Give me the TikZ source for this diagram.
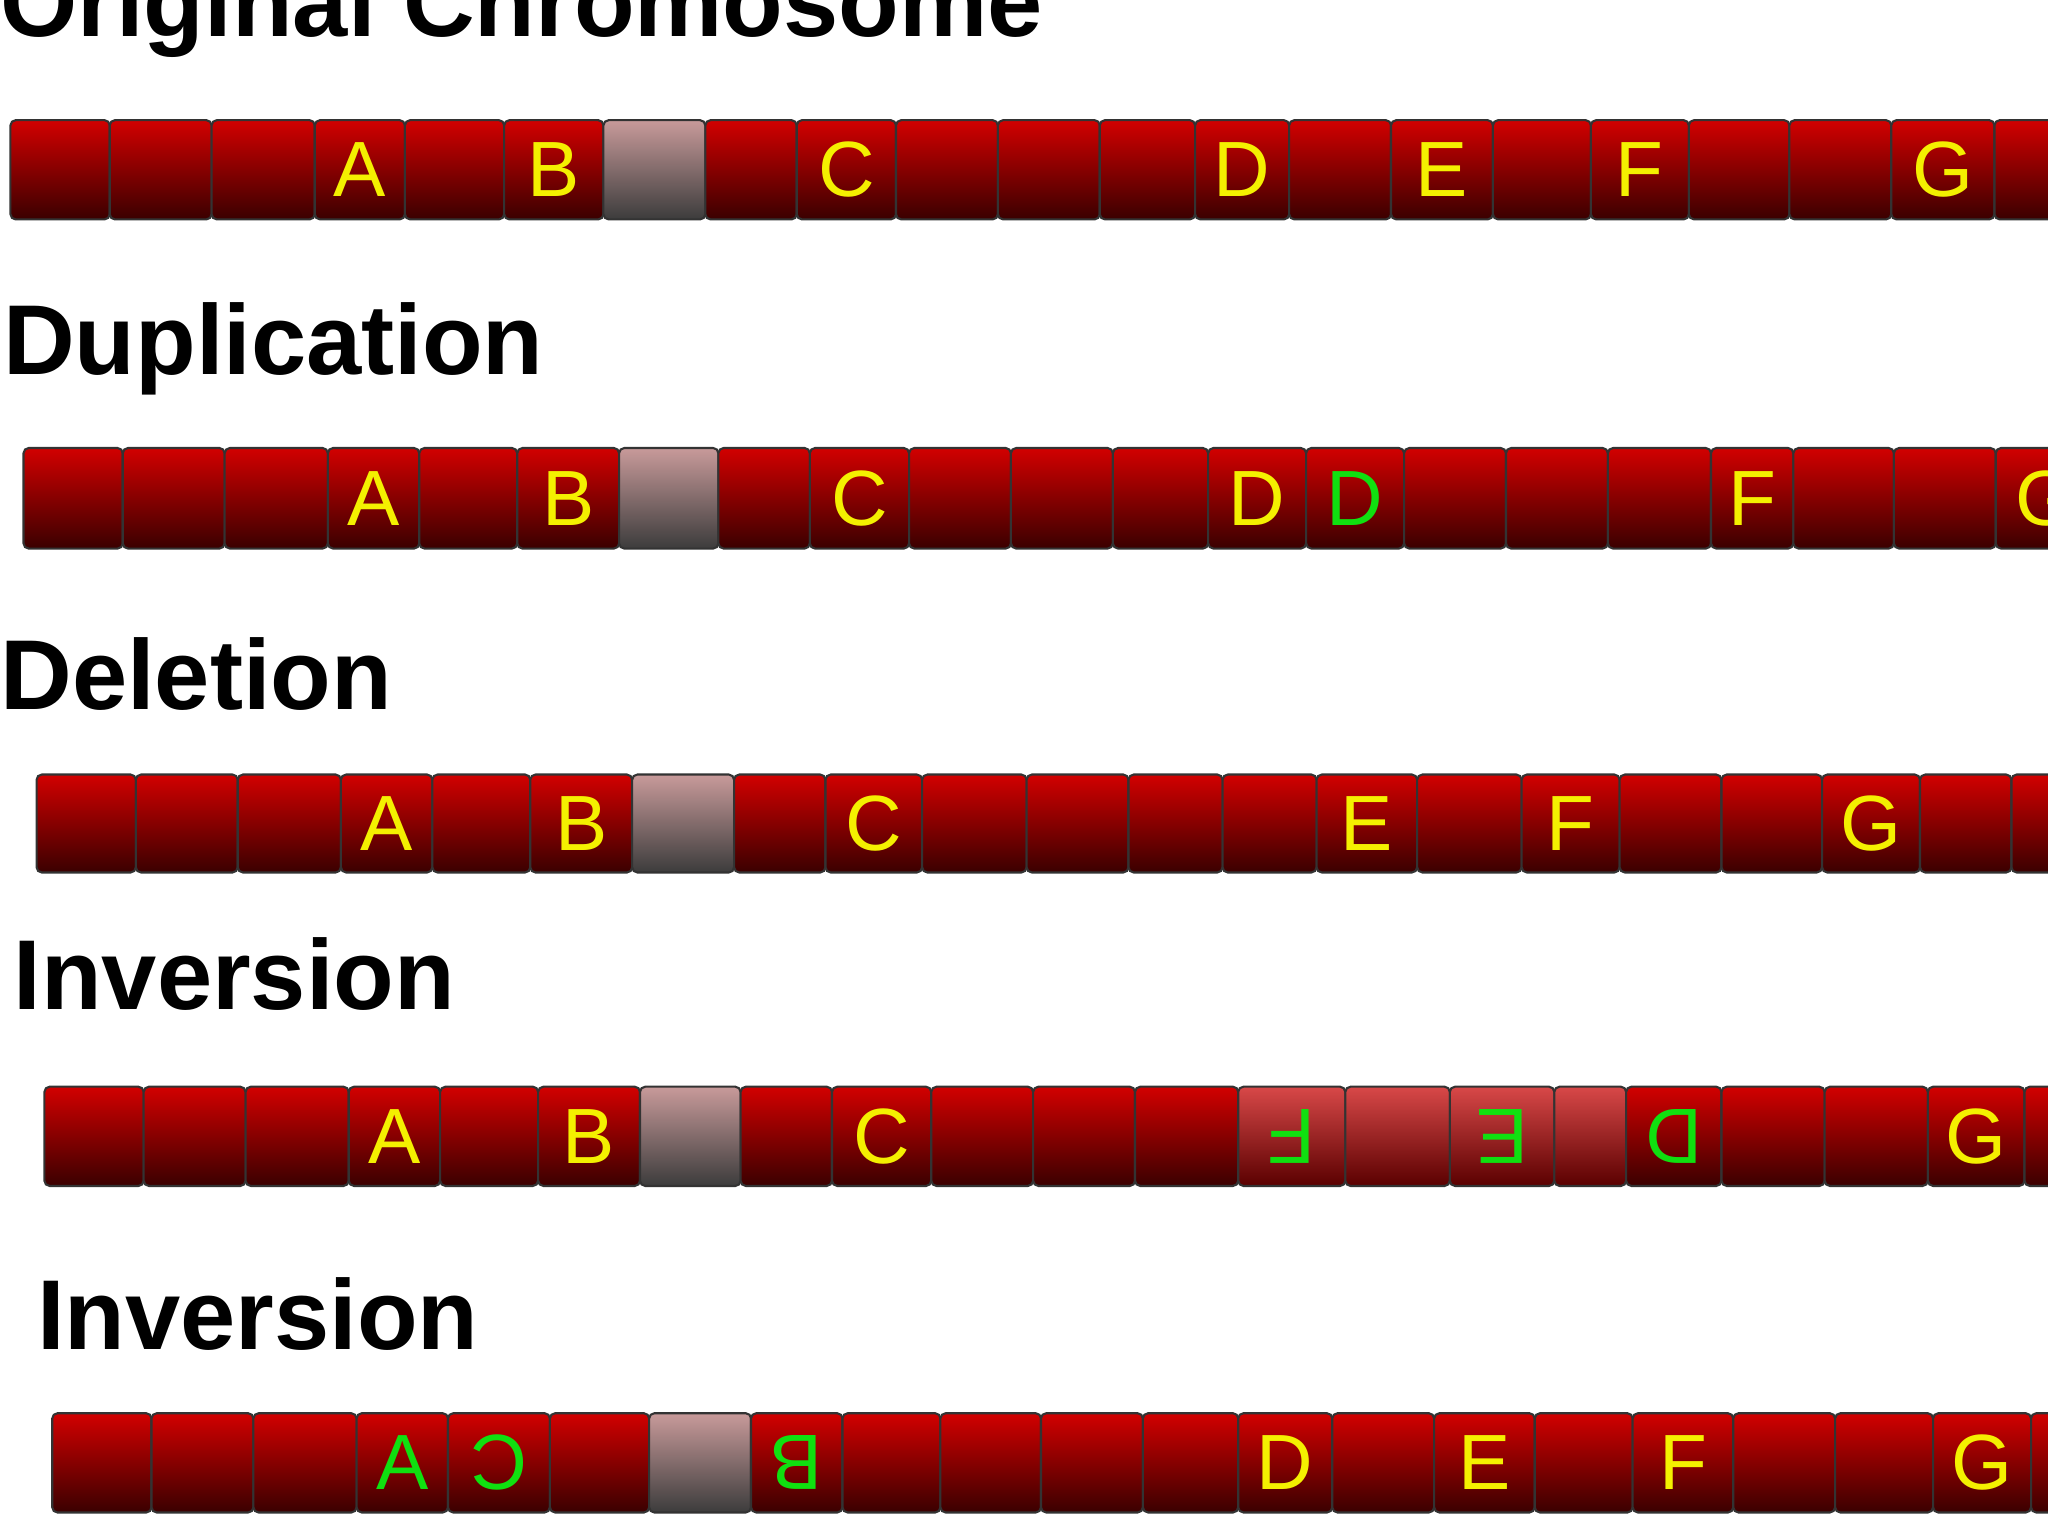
\documentclass[tikz,border=0pt]{standalone}
\usepackage{fontspec}
\setmainfont{Liberation Sans}
\definecolor{rtop}{HTML}{D20000}
\definecolor{rbot}{HTML}{3A0000}
\definecolor{gtop}{HTML}{C89A9A}
\definecolor{gbot}{HTML}{3C3C3C}
\definecolor{ltop}{HTML}{D84848}
\definecolor{lbot}{HTML}{5A0000}
\definecolor{ylw}{HTML}{F4F000}
\definecolor{grn}{HTML}{10E010}
\newcommand{\Y}[1]{\textcolor{ylw}{#1}}
\newcommand{\Gn}[1]{\textcolor{grn}{#1}}
\newcommand{\Rg}[1]{\rotatebox[origin=c]{180}{\textcolor{grn}{#1}}}
\tikzset{
  cellr/.style={draw=black!80, line width=0.8pt, rounded corners=2pt, top color=rtop, bottom color=rbot},
  cellg/.style={draw=black!80, line width=0.8pt, rounded corners=2pt, top color=gtop, bottom color=gbot},
  celll/.style={draw=black!80, line width=0.8pt, rounded corners=2pt, top color=ltop, bottom color=lbot},
  lab/.style={font=\fontsize{30}{30}\selectfont, inner sep=0pt},
  ttl/.style={font=\fontsize{38}{38}\selectfont\bfseries, anchor=base west, inner sep=0pt}
}
\newcommand{\chrow}[3]{%
  \foreach \xa/\xb/\f/\t [count=\i] in {#3} {
    \path[cell\f] (\xa,#1) rectangle (\xb,#2);
    \node[lab] (c#1x\i) at ({(\xa+\xb)/2},{(#1+#2)/2}) {\t};
  }}
\begin{document}
\begin{tikzpicture}[x=0.5pt,y=-0.5pt]
\useasboundingbox (0,0) rectangle (1568,1176);
\clip (0,0) rectangle (1568,1176);
\node[ttl] (t1) at (0,28) {Original Chromosome};
\node[ttl] (t2) at (2,287) {Duplication};
\node[ttl] (t3) at (0,543) {Deletion};
\node[ttl] (t4) at (10,773) {Inversion};
\node[ttl] (t5) at (28,1033) {Inversion};
\chrow{92}{168}{8/84/r/{},84/162/r/{},162/241/r/{},241/310/r/\Y{A},310/386/r/{},386/462/r/\Y{B},462/540/g/{},540/610/r/{},610/686/r/\Y{C},686/764/r/{},764/842/r/{},842/915/r/{},915/987/r/\Y{D},987/1065/r/{},1065/1143/r/\Y{E},1143/1218/r/{},1218/1293/r/\Y{F},1293/1370/r/{},1370/1448/r/{},1448/1527/r/\Y{G},1527/1620/r/{}}
\chrow{343}{420}{18/94/r/{},94/172/r/{},172/251/r/{},251/321/r/\Y{A},321/396/r/{},396/474/r/\Y{B},474/550/g/{},550/620/r/{},620/696/r/\Y{C},696/774/r/{},774/852/r/{},852/925/r/{},925/1000/r/\Y{D},1000/1075/r/\Gn{D},1075/1153/r/{},1153/1231/r/{},1231/1310/r/{},1310/1373/r/\Y{F},1373/1450/r/{},1450/1528/r/{},1528/1605/r/\Y{G}}
\chrow{593}{668}{28/104/r/{},104/182/r/{},182/261/r/{},261/331/r/\Y{A},331/406/r/{},406/484/r/\Y{B},484/562/g/{},562/632/r/{},632/706/r/\Y{C},706/786/r/{},786/864/r/{},864/936/r/{},936/1008/r/{},1008/1085/r/\Y{E},1085/1165/r/{},1165/1240/r/\Y{F},1240/1318/r/{},1318/1395/r/{},1395/1470/r/\Y{G},1470/1540/r/{},1540/1620/r/{}}
\chrow{832}{908}{34/110/r/{},110/188/r/{},188/267/r/{},267/337/r/\Y{A},337/412/r/{},412/490/r/\Y{B},490/567/g/{},567/637/r/{},637/713/r/\Y{C},713/791/r/{},791/869/r/{},869/948/r/{},948/1030/l/\Rg{F},1030/1110/l/{},1110/1190/l/\Rg{E},1190/1245/l/{},1245/1318/r/\Rg{D},1318/1397/r/{},1397/1476/r/{},1476/1550/r/\Y{G},1550/1620/r/{}}
\chrow{1082}{1158}{40/116/r/{},116/194/r/{},194/273/r/{},273/343/r/\Gn{A},343/421/r/\Rg{C},421/497/r/{},497/575/g/{},575/645/r/\Rg{B},645/720/r/{},720/797/r/{},797/875/r/{},875/948/r/{},948/1020/r/\Y{D},1020/1098/r/{},1098/1175/r/\Y{E},1175/1250/r/{},1250/1327/r/\Y{F},1327/1405/r/{},1405/1480/r/{},1480/1555/r/\Y{G},1555/1620/r/{}}
\end{tikzpicture}
\end{document}
